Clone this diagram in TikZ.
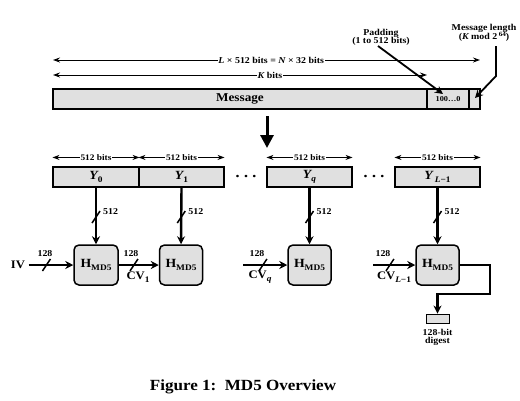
\documentclass[tikz,border=0pt]{standalone}
\usepackage{fontspec}
\setmainfont[FakeStretch=1.1]{Liberation Serif}
\usetikzlibrary{arrows.meta,calc}
\definecolor{boxgray}{RGB}{224,224,224}
\newcommand{\lsub}[1]{\raisebox{-2.5pt}{\fontsize{8.5}{8.5}\selectfont #1}}
\newcommand{\fsz}[1]{\fontsize{#1}{#1}\selectfont}
\begin{document}
\begin{tikzpicture}[x=1pt,y=-1pt,font=\bfseries,
  box/.style={draw,line width=1.1pt,fill=boxgray,inner sep=0pt,minimum height=20pt},
  hbox/.style={draw,line width=1.5pt,fill=boxgray,rounded corners=5pt,minimum width=44pt,minimum height=40pt,inner sep=0pt,font=\bfseries\fsz{12.5}},
  flow/.style={line width=2.4pt,-{Stealth[length=8pt,width=8pt]}},
  dim/.style={line width=1pt,{Stealth[length=7pt,width=5pt]}-{Stealth[length=7pt,width=5pt]}},
  dlab/.style={fill=white,inner sep=0.6pt,font=\bfseries\fsz{8.5}},
  tlab/.style={inner sep=0pt,font=\bfseries\fsz{9}},
  slashline/.style={line width=1.5pt}
]
\useasboundingbox (0,0) rectangle (520,400);

% message bar
\node[box,minimum width=374pt,font=\bfseries\fsz{12}] (msg) at (240,99) {Message};
\node[box,minimum width=42pt,font=\bfseries\fsz{7.5}] (pad) at (448,99) {100\ldots0};
\node[box,minimum width=11pt] (len) at (474.5,99) {};

% dimension arrows
\coordinate (la) at (53,60); \coordinate (lb) at (480,60);
\coordinate (ka) at (53,75); \coordinate (kb) at (427,75);
\draw[dim] (la) -- node[dlab,pos=0.511,font=\bfseries\fsz{9}]{{\itshape L} × 512 bits = {\itshape N} × 32 bits} (lb);
\draw[dim] (ka) -- node[dlab,pos=0.58,font=\bfseries\fsz{9}]{{\itshape K} bits} (kb);

% padding and length labels
\node[tlab,align=center] (padl) at (381,37) {Padding\\[-1pt](1 to 512 bits)};
\node[tlab,align=center] (lenl) at (484,33) {Message length\\[-1pt]({\itshape K} mod 2\,\raisebox{3pt}{\fsz{6.5}64})};
\coordinate (pt1) at (378,46); \coordinate (pt2) at (443,94);
\draw[flow,line width=1.8pt] (pt1) -- (pt2);
\coordinate (lt1) at (496,46); \coordinate (lt2) at (496,76); \coordinate (lt3) at (475,98);
\draw[flow,line width=1.8pt] (lt1) -- (lt2) -- (lt3);

% big down arrow
\coordinate (bd1) at (267,116); \coordinate (bd2) at (267,148);
\draw[line width=3pt,-{Triangle[length=13pt,width=13pt]}] (bd1) -- (bd2);

% blocks
\node[box,minimum width=86pt,font=\bfseries\fsz{12.5}] (y0) at (96,177) {{\itshape Y}\lsub{0}};
\node[box,minimum width=85pt,font=\bfseries\fsz{12.5}] (y1) at (181.5,177) {{\itshape Y}\lsub{1}};
\node[box,minimum width=85pt,font=\bfseries\fsz{12.5}] (yq) at (309.5,177) {{\itshape Y}\lsub{\itshape q}};
\node[box,minimum width=85pt,font=\bfseries\fsz{12.5}] (yl) at (437.5,177) {{\itshape Y}\,\lsub{{\itshape L}−1}};

\node[font=\bfseries\fsz{9}] (d1) at (246,177) {\textbullet\ \ \textbullet\ \ \textbullet};
\node[font=\bfseries\fsz{9}] (d2) at (374,177) {\textbullet\ \ \textbullet\ \ \textbullet};

\foreach \b in {y0,y1,yq,yl}{
  \draw[dim] ($(\b.north west)+(0,-9)$) -- node[dlab]{512 bits} ($(\b.north east)+(0,-9)$);
}

% hash boxes
\node[hbox] (h1) at (96,265) {H\lsub{MD5}};
\node[hbox,minimum width=43pt] (h2) at (181,265) {H\lsub{MD5}};
\node[hbox,minimum width=43pt] (h3) at (309.5,265) {H\lsub{MD5}};
\node[hbox,minimum width=43pt] (h4) at (437.5,265) {H\lsub{MD5}};

% vertical flows
\foreach \b/\h in {y0/h1,y1/h2,yq/h3,yl/h4}{
  \draw[flow] (\b.south) -- node[pos=0.43,right=6pt,tlab]{512} (\h.north);
  \draw[slashline] ($(\b.south)!0.52!(\h.north)$) +(-4,6) -- +(4,-6);
}

% horizontal flows
\node[font=\bfseries\fsz{11.5}] (iv) at (18,265) {IV};
\draw[flow] (iv.east) -- (h1.west);
\draw[slashline] ($(iv.east)!0.4!(h1.west)$) +(-4,6) -- +(4,-6);
\node[tlab] (n1) at (45,254) {128};

\draw[flow] (h1.east) -- (h2.west);
\draw[slashline] ($(h1.east)!0.38!(h2.west)$) +(-4,6) -- +(4,-6);
\node[tlab] (n2) at (131,254) {128};
\node[font=\bfseries\fsz{11.5}] (cv1) at (138,277) {CV\lsub{1}};

\coordinate (cq) at (243,265);
\draw[flow] (cq) -- (h3.west);
\draw[slashline] ($(cq)!0.45!(h3.west)$) +(-4,6) -- +(4,-6);
\node[tlab] (n3) at (257,254) {128};
\node[font=\bfseries\fsz{11.5}] (cvq) at (260,277) {CV\lsub{\itshape q}};

\coordinate (cl) at (373,265);
\draw[flow] (cl) -- (h4.west);
\draw[slashline] ($(cl)!0.4!(h4.west)$) +(-4,6) -- +(4,-6);
\node[tlab] (n4) at (383,254) {128};
\node[font=\bfseries\fsz{11.5}] (cvl) at (394,277) {CV\lsub{{\itshape L}−1}};

% output digest
\node[draw,line width=0.9pt,fill=boxgray,minimum width=23pt,minimum height=9pt,inner sep=0pt] (dig) at (437.5,318.5) {};
\node[tlab,align=center] (digl) at (437.5,337) {128-bit\\[-1pt]digest};
\coordinate (oc) at (490,294);
\draw[flow] (h4.east) -| (oc) -| (dig.north);

% caption
\node[font=\bfseries\fsz{15.5}] (cap) at (243,387) {Figure 1:\ \ MD5 Overview};
\end{tikzpicture}
\end{document}
